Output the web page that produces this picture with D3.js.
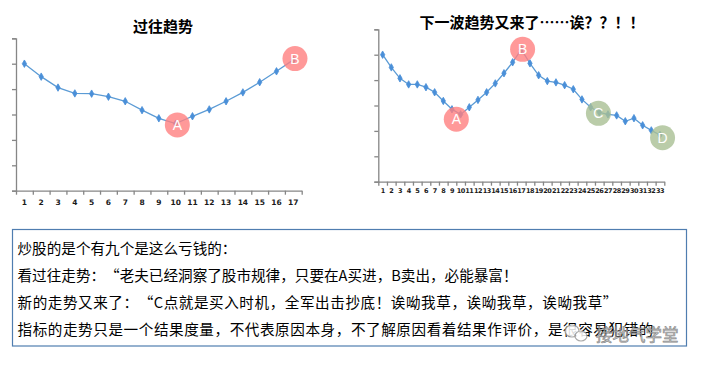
<!DOCTYPE html>
<html>
<head>
<meta charset="utf-8">
<script src="https://cdn.jsdelivr.net/npm/d3@7"></script>
<style>
  body { margin: 0; background: #fff; }
  svg { display: block; }
  text { text-spacing-trim: space-all; }
</style>
</head>
<body>
<svg id="chart" width="701" height="369"></svg>
<script>
// 数据
const pastDays = d3.range(1, 18);
const pastValues = [5.0, 4.49, 4.06, 3.83, 3.82, 3.7, 3.52, 3.17, 2.85, 2.64, 2.93, 3.2, 3.52, 3.87, 4.27, 4.7, 5.15];
const pastMarks = [
  { label: "A", day: 10.1, value: 2.59, color: "#ff7f7f" },
  { label: "B", day: 17.1, value: 5.2, color: "#ff7f7f" }
];

const nextDays = d3.range(1, 34);
const nextValues = [5.0, 4.5, 4.07, 3.83, 3.83, 3.72, 3.52, 3.18, 2.85, 2.65, 2.93, 3.22, 3.52, 3.87, 4.27, 4.7, 5.21,
  4.66, 4.19, 3.96, 3.91, 3.8, 3.64, 3.24, 2.93, 2.73, 2.65, 2.61, 2.38, 2.5, 2.22, 2.02, 1.84];
const nextMarks = [
  { label: "A", day: 9.5, value: 2.46, color: "#ff7f7f" },
  { label: "B", day: 17.15, value: 5.21, color: "#ff7f7f" },
  { label: "C", day: 25.9, value: 2.69, color: "#a9bf94" },
  { label: "D", day: 33.3, value: 1.73, color: "#a9bf94" }
];

const titles = ["过往趋势", "下一波趋势又来了……诶？？！！"];
const noteLines = [
  "炒股的是个有九个是这么亏钱的：",
  "看过往走势：“老夫已经洞察了股市规律，只要在A买进，B卖出，必能暴富！",
  "新的走势又来了：“C点就是买入时机，全军出击抄底！诶呦我草，诶呦我草，诶呦我草”",
  "指标的走势只是一个结果度量，不代表原因本身，不了解原因看着结果作评价，是很容易犯错的"
];
const noteSpacing = [0, 0, 0.55, 0.56];

const svg = d3.select("#chart");
const cjk = "'Noto Sans CJK SC', sans-serif";

function drawChart(opt) {
  const g = svg.append("g");
  const x = d3.scaleLinear().domain([0.5, opt.days.length + 0.5]).range([opt.left, opt.right]);
  const y = d3.scaleLinear().domain([0, 6]).range([opt.bottom, opt.top]);

  // 标题
  g.append("text")
    .attr("x", opt.titleX).attr("y", opt.titleY)
    .attr("text-anchor", "middle")
    .attr("font-family", cjk).attr("font-weight", "bold")
    .attr("font-size", 15).attr("fill", "#000")
    .text(opt.title);

  // y 轴
  const yAxis = g.append("g")
    .attr("transform", `translate(${opt.left},0)`)
    .call(d3.axisLeft(y).ticks(6).tickSize(4).tickFormat(""));
  yAxis.selectAll("path, line").attr("stroke", "#868686").attr("stroke-width", 1.3);

  // x 轴
  const xAxis = g.append("g")
    .attr("transform", `translate(0,${opt.bottom})`)
    .call(d3.axisBottom(x).tickValues(d3.range(0.5, opt.days.length + 1, 1)).tickSize(4).tickSizeOuter(0).tickFormat(""));
  xAxis.selectAll("path, line").attr("stroke", "#868686").attr("stroke-width", 1.3);

  g.selectAll(".xlab")
    .data(opt.days)
    .enter().append("text")
    .attr("x", d => x(d))
    .attr("y", opt.bottom + opt.labelDy)
    .attr("text-anchor", "middle")
    .attr("font-family", "'DejaVu Sans', sans-serif")
    .attr("font-weight", "bold")
    .attr("font-size", opt.labelSize)
    .attr("letter-spacing", opt.labelSpacing)
    .attr("fill", "#1a1a1a")
    .text(d => d);

  // 折线
  const line = d3.line().x((d, i) => x(opt.days[i])).y(d => y(d));
  g.append("path")
    .datum(opt.values)
    .attr("d", line)
    .attr("fill", "none")
    .attr("stroke", "#5b9bd5")
    .attr("stroke-width", 1.3);

  g.selectAll(".pt")
    .data(opt.values)
    .enter().append("path")
    .attr("d", d3.symbol().type(d3.symbolDiamond).size(16))
    .attr("transform", (d, i) => `translate(${x(opt.days[i])},${y(d)})`)
    .attr("fill", "#4a8fd8")
    .attr("stroke", "#4a8fd8")
    .attr("stroke-width", 0.8);

  // 标注圆圈
  const mk = g.selectAll(".mk")
    .data(opt.marks)
    .enter().append("g")
    .attr("transform", d => `translate(${x(d.day)},${y(d.value)})`);
  mk.append("circle")
    .attr("r", 12.5)
    .attr("fill", d => d.color)
    .attr("fill-opacity", 0.8);
  mk.append("text")
    .attr("y", 5)
    .attr("text-anchor", "middle")
    .attr("font-family", "'Liberation Sans', Arial, sans-serif")
    .attr("font-size", 14)
    .attr("fill", "#fff")
    .text(d => d.label);
}

drawChart({
  days: pastDays, values: pastValues, marks: pastMarks, title: titles[0],
  left: 16, right: 301.7, top: 38.3, bottom: 190.7,
  titleX: 163, titleY: 32, labelDy: 14, labelSize: 7.5, labelSpacing: 0
});

drawChart({
  days: nextDays, values: nextValues, marks: nextMarks, title: titles[1],
  left: 378.3, right: 664.3, top: 29.3, bottom: 181.7,
  titleX: 532, titleY: 28, labelDy: 11.5, labelSize: 6.5, labelSpacing: -0.6
});

// 文本框
svg.append("rect")
  .attr("x", 12.5).attr("y", 229.5)
  .attr("width", 674).attr("height", 116.5)
  .attr("fill", "#fff")
  .attr("stroke", "#4f7db0")
  .attr("stroke-width", 1.2);

svg.selectAll(".note")
  .data(noteLines)
  .enter().append("text")
  .attr("x", 17.5)
  .attr("y", (d, i) => 254 + i * 27)
  .attr("font-family", cjk)
  .attr("font-size", 14.6)
  .attr("letter-spacing", (d, i) => noteSpacing[i])
  .attr("fill", "#000")
  .text(d => d);

// 水印
const wm = svg.append("g").attr("transform", "translate(566,333)").attr("opacity", 0.85);
wm.append("ellipse").attr("cx", 6).attr("cy", -2).attr("rx", 7).attr("ry", 6)
  .attr("fill", "#fff").attr("stroke", "#9a9a9a").attr("stroke-width", 1.2);
wm.append("ellipse").attr("cx", 15).attr("cy", 3).attr("rx", 6).attr("ry", 5)
  .attr("fill", "#fff").attr("stroke", "#9a9a9a").attr("stroke-width", 1.2);
wm.append("text")
  .attr("x", 30).attr("y", 8)
  .attr("font-family", cjk)
  .attr("font-size", 16.5)
  .attr("fill", "#c4c4c4")
  .attr("stroke", "#707070")
  .attr("stroke-width", 0.6)
  .text("接地气学堂");
</script>
</body>
</html>
